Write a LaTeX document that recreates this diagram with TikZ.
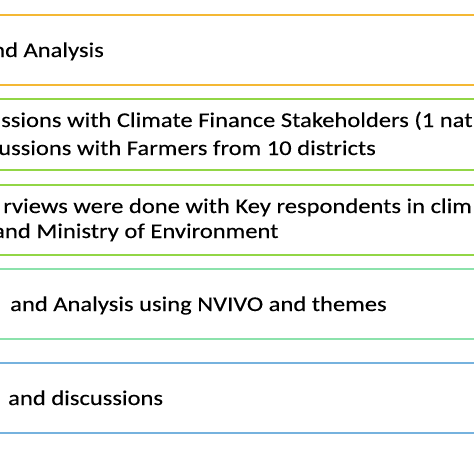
\documentclass[tikz,border=0pt]{standalone}
\usepackage{fontspec}
\setmainfont{Carlito}
\newfontfamily\rowfont[FakeStretch=1.17,FakeBold=0.2]{Carlito}
\usepackage{xcolor}
\definecolor{bandgold}{RGB}{244,184,52}
\definecolor{bandlime}{RGB}{146,214,70}
\definecolor{bandmint}{RGB}{140,226,172}
\definecolor{bandblue}{RGB}{118,178,222}

\begin{document}
\begin{tikzpicture}[x=1pt,y=-1pt,
    band/.style={line width=2pt},
    row/.style={anchor=base west, inner sep=0pt, text=black,
        font=\rowfont\fontsize{21}{25}\selectfont}]
    \useasboundingbox (0,0) rectangle (474,474);
    \clip (0,0) rectangle (474,474);

    % bands
    \draw[band,bandgold] (-10,15) rectangle (484,85);
    \draw[band,bandlime] (-10,99) rectangle (484,170);
    \draw[band,bandlime] (-10,185) rectangle (484,255);
    \draw[band,bandmint] (-10,269) rectangle (484,339);
    \draw[band,bandblue] (-10,363) rectangle (484,433);

    % texts
    \node[row] (t1) at (-8,57) {nd Analysis};
    \node[row] (t2a) at (1,127) {ssions with Climate Finance Stakeholders (1 nat};
    \node[row] (t2b) at (-2,155) {ussions with Farmers from 10 districts};
    \node[row] (t3a) at (3,213) {rviews were done with Key respondents in clim};
    \node[row] (t3b) at (-7,238) {and Ministry of Environment};
    \node[row] (t4) at (10,311) {and Analysis using NVIVO and themes};
    \node[row] (t5) at (8,405) {and discussions};
\end{tikzpicture}
\end{document}
